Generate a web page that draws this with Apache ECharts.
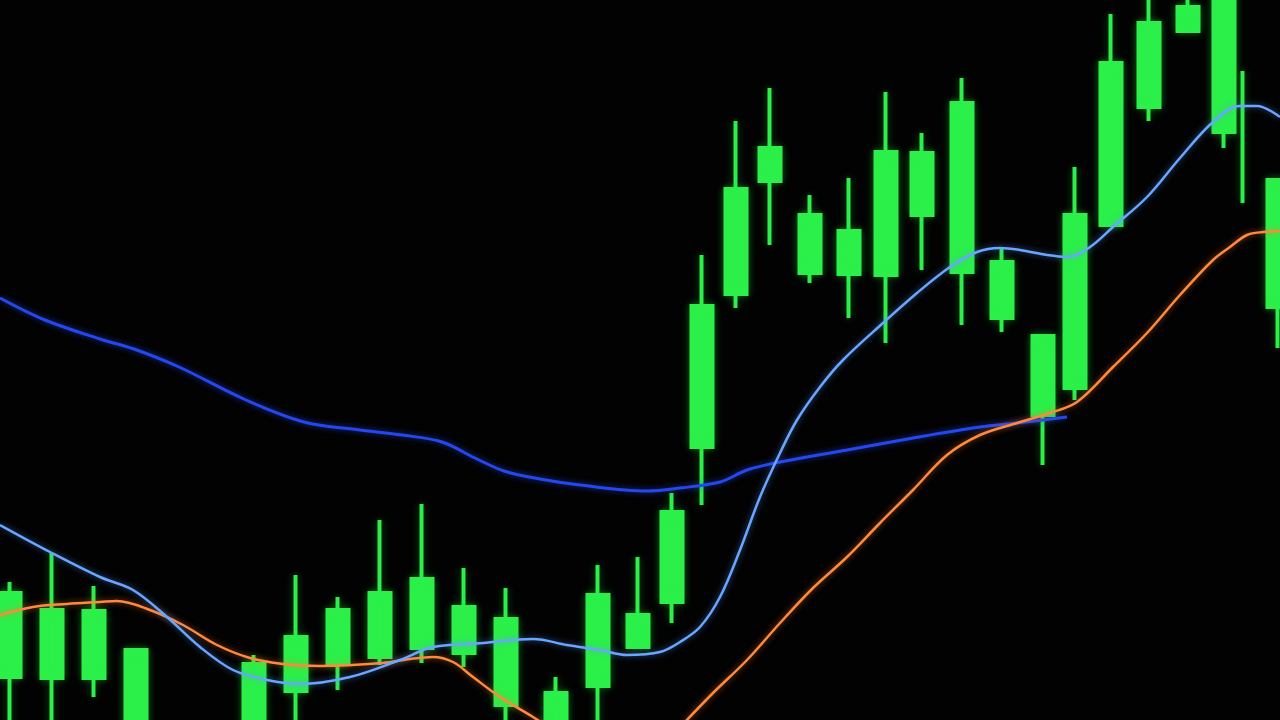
<!DOCTYPE html>
<html>
<head>
<meta charset="utf-8">
<script src="https://cdn.jsdelivr.net/npm/echarts@6/dist/echarts.min.js"></script>
<style>
html,body{margin:0;padding:0;background:#020202;}
#c{width:1280px;height:720px;}
</style>
</head>
<body>
<div id="c"></div>
<script>
// Candle times (minutes) and prices
var candleTimes = [1.0,5.2,9.4,13.6,25.4,29.6,33.8,38.0,42.2,46.4,50.6,55.6,59.8,63.8,67.2,70.2,73.6,77.0,81.0,84.9,88.6,92.2,96.2,100.2,104.3,107.5,111.1,114.9,118.8,122.4,127.8];
var opens  = [104.3,104.2,104.2,96.0,98.0,102.9,105.7,106.3,107.2,106.7,101.5,97.0,103.4,107.3,111.8,127.3,142.6,153.9,144.7,144.6,144.5,150.5,144.8,140.2,130.5,133.2,149.5,161.3,168.9,158.8,141.3];
var closes = [112.7,111.0,110.9,107.0,105.6,108.3,111.0,112.7,114.1,111.3,110.1,102.7,112.5,110.5,120.8,141.4,153.1,157.2,150.5,148.9,156.8,156.7,161.7,145.8,138.4,150.5,165.7,169.7,171.3,174.0,154.0];
var lows   = [97.5,97.0,102.3,94.0,96.0,99.5,103.0,105.5,105.7,105.3,99.0,95.0,99.0,107.3,109.7,121.5,141.2,147.5,143.7,140.2,137.7,145.0,139.5,138.8,125.5,132.0,149.5,159.9,168.9,157.2,137.2];
var highs  = [113.8,116.7,113.4,107.0,106.5,114.5,112.3,120.0,121.6,115.2,113.2,104.3,115.5,116.3,122.7,146.5,159.9,163.2,152.5,154.2,162.8,158.7,164.2,147.2,138.4,155.3,170.6,173.5,173.5,176.0,154.0];

// Doji (wick only) candle
var dojiTimes = [124.3];
var dojiOpen = [158.3], dojiClose = [158.3], dojiLow = [151.7], dojiHigh = [164.9];

// Slow moving average (dark blue)
var slowT = [0.0,4.5,10.0,13.4,17.9,24.6,30.4,36.0,40.2,44.2,47.5,50.4,54.0,58.0,64.7,68.0,72.0,74.7,78.0,84.7,91.3,98.0,101.7,106.7];
var slowV = [142.2,140.0,138.1,137.1,135.3,132.0,129.8,129.0,128.5,127.8,126.2,124.9,124.1,123.5,122.9,123.2,123.8,125.0,125.8,127.0,128.2,129.3,129.7,130.3];

// Fast moving average (light blue)
var fastT = [0,5.0,10.0,13.3,16.7,20.0,23.3,26.7,30.0,35.0,40.0,43.3,48.3,53.3,56.7,60.0,62.7,66.0,68.0,70.0,72.0,74.0,76.0,78.0,79.7,82.0,84.3,88.3,91.7,95.0,97.7,100.0,102.0,104.7,106.7,109.0,111.3,114.7,118.0,121.3,124.0,125.7,128.0];
var fastV = [119.5,116.8,114.3,113.0,110.3,107.3,105.0,104.0,103.6,104.3,106.0,107.3,107.7,108.1,107.5,107.0,106.5,106.8,107.8,109.3,112.3,117.0,122.3,126.7,130.0,133.3,136.0,139.7,142.7,145.3,146.8,147.2,147.0,146.5,146.3,147.3,149.3,152.3,156.2,159.8,161.4,161.4,160.3];

// Medium moving average (orange); null = gap below the visible range
var midT = [0,3.3,6.7,10.0,11.7,15.0,18.3,21.7,25.0,28.3,32.0,38.3,41.0,43.3,45.3,47.3,50.0,53.3,54.5,61.0,68.5,71.3,74.7,78.0,81.3,84.7,88.0,91.3,94.7,98.0,101.7,105.0,107.7,111.3,114.7,118.0,121.3,123.0,124.7,126.3,128.0];
var midV = [110.5,111.3,111.6,111.8,111.9,111.0,109.5,107.5,106.2,105.6,105.4,105.7,106.1,106.3,105.8,104.3,102.3,100.3,99.5,null,99.8,102.7,106.0,109.7,113.2,116.3,119.7,123.0,126.5,128.5,129.7,130.7,131.8,135.3,138.7,142.5,146.0,147.3,148.5,148.8,148.9];

function zip2(a, b) { return a.map(function (v, i) { return [v, b[i]]; }); }
function candles(t, o, c, l, h) { return t.map(function (v, i) { return [v, o[i], c[i], l[i], h[i]]; }); }

var GREEN = '#2cf04a';
var chart = echarts.init(document.getElementById('c'), null, {renderer: 'canvas'});
chart.setOption({
  backgroundColor: '#020202',
  animation: false,
  grid: {left: 0, right: 0, top: 0, bottom: 0},
  xAxis: {type: 'value', min: 0, max: 128, show: false},
  yAxis: {type: 'value', min: 100, max: 172, show: false},
  series: [
    {
      type: 'candlestick',
      barWidth: 21,
      encode: {x: 0, y: [1, 2, 3, 4]},
      data: candles(candleTimes, opens, closes, lows, highs),
      itemStyle: {color: GREEN, color0: GREEN, borderColor: GREEN, borderColor0: GREEN, borderWidth: 4, shadowBlur: 8, shadowColor: 'rgba(40,240,70,0.35)'},
      z: 2
    },
    {
      type: 'candlestick',
      barWidth: 1,
      encode: {x: 0, y: [1, 2, 3, 4]},
      data: candles(dojiTimes, dojiOpen, dojiClose, dojiLow, dojiHigh),
      itemStyle: {color: GREEN, color0: GREEN, borderColor: GREEN, borderColor0: GREEN, borderWidth: 4, shadowBlur: 8, shadowColor: 'rgba(40,240,70,0.35)'},
      z: 2
    },
    {
      type: 'line', smooth: 0.35, showSymbol: false, symbol: 'none',
      data: zip2(slowT, slowV),
      lineStyle: {color: '#2447f0', width: 3, shadowBlur: 6, shadowColor: 'rgba(40,80,255,0.6)'},
      z: 3
    },
    {
      type: 'line', smooth: 0.35, showSymbol: false, symbol: 'none', connectNulls: false,
      data: zip2(midT, midV),
      lineStyle: {color: '#ff8a3c', width: 2.5, shadowBlur: 6, shadowColor: 'rgba(255,120,40,0.6)'},
      z: 4
    },
    {
      type: 'line', smooth: 0.35, showSymbol: false, symbol: 'none',
      data: zip2(fastT, fastV),
      lineStyle: {color: '#6aa6ff', width: 2.5, shadowBlur: 6, shadowColor: 'rgba(90,150,255,0.6)'},
      z: 5
    }
  ]
});
</script>
</body>
</html>
